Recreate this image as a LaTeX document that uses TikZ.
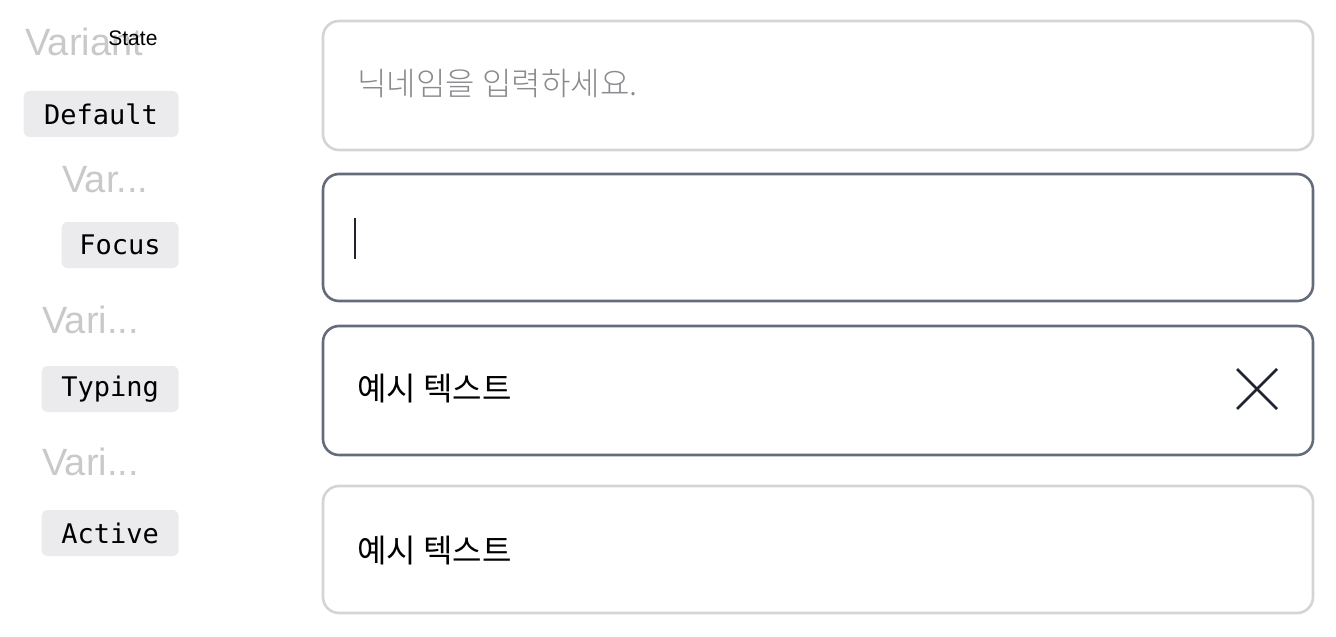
\documentclass[tikz,border=0pt]{standalone}
\usepackage{fontspec}
\setmainfont{Liberation Sans}
\setmonofont{DejaVu Sans Mono}
\newfontfamily\kr{Noto Sans CJK KR}
\newfontfamily\krl{Noto Sans CJK KR Light}
\definecolor{lightb}{HTML}{D4D4D6}
\definecolor{darkb}{HTML}{646B7B}
\definecolor{faded}{HTML}{C9C9CB}
\definecolor{tagbg}{HTML}{EBEBED}
\definecolor{ph}{HTML}{8A8A8E}
\definecolor{ink}{HTML}{1F2430}
\begin{document}
\begin{tikzpicture}[x=0.5pt,y=-0.5pt,
  field/.style={rounded corners=8pt,line width=1.3pt},
  lfield/.style={field,draw=lightb},
  dfield/.style={field,draw=darkb},
  tag/.style={fill=tagbg,rounded corners=3pt,font=\ttfamily\fontsize{13.5}{15}\selectfont,inner sep=0pt,anchor=east,minimum height=23pt},
  var/.style={text=faded,font=\fontsize{19}{22}\selectfont,inner sep=0pt,anchor=west},
  kt/.style={font=\kr\fontsize{16}{18}\selectfont,inner sep=0pt,anchor=west}]
\path[use as bounding box] (0,0) rectangle (1336,636);
% left column
\node[var] (v0) at (25,42) {Variant};
\node[font=\fontsize{10.5}{12}\selectfont,inner sep=0pt,anchor=west] (st) at (108,38) {State};
\node[tag,minimum width=77.5pt] (t1) at (179,114) {Default};
\node[var] (v1) at (62,180) {Var...};
\node[tag,minimum width=58.5pt] (t2) at (179,245) {Focus};
\node[var] (v2) at (42,320) {Vari...};
\node[tag,minimum width=68.5pt] (t3) at (179,389) {Typing};
\node[var] (v3) at (42,462) {Vari...};
\node[tag,minimum width=68.5pt] (t4) at (179,533) {Active};
% fields
\draw[lfield] (323,21) rectangle (1313,150);
\node[kt,text=ph,font=\krl\fontsize{16}{18}\selectfont] (p1) at (357,84) {닉네임을 입력하세요.};
\draw[dfield] (323,174) rectangle (1313,301);
\coordinate (c1) at (355,218); \coordinate (c2) at (355,259);
\draw[line width=0.8pt,ink] (c1) -- (c2);
\draw[dfield] (323,326) rectangle (1313,455);
\node[kt] (p3) at (357,389) {예시 텍스트};
\coordinate (x1) at (1237,369); \coordinate (x2) at (1277,409);
\coordinate (x3) at (1237,409); \coordinate (x4) at (1277,369);
\draw[line width=1.3pt,ink] (x1) -- (x2) (x3) -- (x4);
\draw[lfield] (323,486) rectangle (1313,613);
\node[kt] (p4) at (357,551) {예시 텍스트};
\end{tikzpicture}
\end{document}
